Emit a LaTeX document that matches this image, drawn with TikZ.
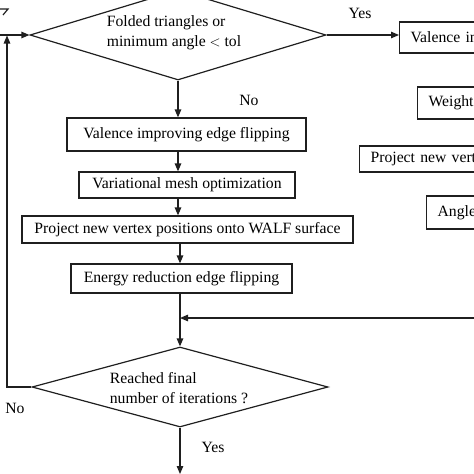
\documentclass[tikz,border=0pt]{standalone}
\usepackage{fontspec}
\setmainfont{Liberation Serif}
\usetikzlibrary{shapes.geometric,arrows.meta}
\begin{document}
\begin{tikzpicture}[x=1pt,y=-1pt,
  ln/.style={line width=1.2pt,draw=black!88},
  arr/.style={ln,-{Triangle[length=8pt,width=6.5pt]}},
  dec/.style={diamond,ln,inner sep=0pt},
  dtext/.style={align=left,inner sep=0pt,font=\fontsize{15.7}{20}\selectfont},
  box/.style={rectangle,ln,inner sep=0pt,font=\fontsize{15.7}{18}\selectfont},
  rbox/.style={box,anchor=west,text width=150pt,align=left,inner xsep=11pt},
  lab/.style={font=\fontsize{15.7}{18}\selectfont,inner sep=0pt}]
\useasboundingbox (0,0) rectangle (474,474);
\clip (0,0) rectangle (474,474);
% top-left fragment
\draw[ln] (0,9) -- (8,9) -- (3,15);
% decisions
\node[dec,minimum width=296pt,minimum height=90pt] (d1) at (178,35) {};
\node[dtext] (t1) at (174,33) {Folded triangles or\\minimum angle $<$ tol};
\node[dec,minimum width=296pt,minimum height=80pt] (d2) at (180,387) {};
\node[dtext] (t2) at (179,388) {Reached final\\number of iterations ?};
% main boxes
\node[box,minimum width=239pt,minimum height=33pt] (b1) at (186.5,134.5) {Valence improving edge flipping};
\node[box,minimum width=216pt,minimum height=26pt] (b2) at (187,185) {Variational mesh optimization};
\node[box,minimum width=331pt,minimum height=27pt] (b3) at (187.5,229.5) {Project new vertex positions onto WALF surface};
\node[box,minimum width=221pt,minimum height=29pt] (b4) at (181.5,278.5) {Energy reduction edge flipping};
% right boxes (cut off by the picture's edge, as in the reference)
\node[rbox,minimum height=31pt] (r1) at (399,37.5) {Valence im};
\node[rbox,minimum height=32pt] (r2) at (417,103) {Weight};
\node[rbox,minimum height=26pt] (r3) at (359,159) {Project new vert};
\node[rbox,minimum height=33pt] (r4) at (426,212.5) {Angle};
% coordinates
\coordinate (inl) at (0,35);
\coordinate (loopt) at (7,35.5);
\coordinate (fbr) at (474,318);
\coordinate (fbl) at (180,318);
\coordinate (outb) at (180,474);
% connectors
\draw[arr] (inl) -- (d1.west);
\draw[arr] (d1.east) -- (d1.east -| r1.west);
\draw[arr] (d1.south) -- (d1.south |- b1.north);
\draw[arr] (d1.south |- b1.south) -- (d1.south |- b2.north);
\draw[arr] (d1.south |- b2.south) -- (d1.south |- b3.north);
\draw[arr] (d2.north |- b3.south) -- (d2.north |- b4.north);
\draw[arr] (d2.north |- b4.south) -- (d2.north);
\draw[arr] (fbr) -- (fbl);
\draw[arr] (d2.west) -| (loopt);
\draw[arr] (d2.south) -- (outb);
% labels
\node[lab] (y1) at (360,13) {Yes};
\node[lab] (n1) at (249,100) {No};
\node[lab] (n2) at (15,408) {No};
\node[lab] (y2) at (213,447) {Yes};
\end{tikzpicture}
\end{document}
